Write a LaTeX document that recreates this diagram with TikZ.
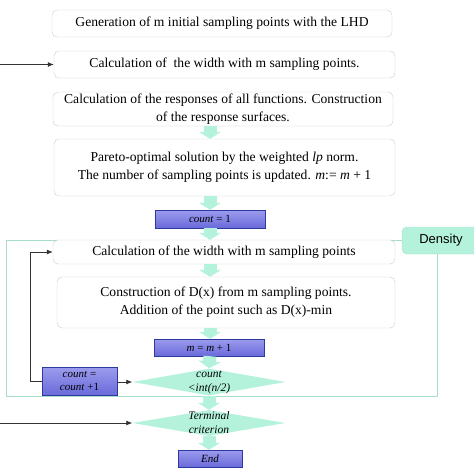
\documentclass[tikz,border=0pt]{standalone}
\usepackage{fontspec}
\setmainfont{Liberation Serif}
\setsansfont{Liberation Sans}
\usetikzlibrary{arrows.meta,shapes.geometric}
\definecolor{boxline}{HTML}{CCCCCC}
\definecolor{mint}{HTML}{B4F2DC}
\definecolor{mintline}{HTML}{A6DCC9}
\definecolor{bluetop}{HTML}{9C9CEE}
\definecolor{bluebot}{HTML}{6A6ADB}
\definecolor{blueline}{HTML}{2C3A9E}
\begin{document}
\begin{tikzpicture}[x=1pt,y=-1pt,
    stepbox/.style={draw=boxline, rounded corners=5pt, fill=white,
      align=center, inner sep=0pt, font=\fontsize{13.6}{18}\selectfont},
    countbox/.style={draw=blueline, top color=bluetop, bottom color=bluebot,
      align=center, inner sep=0pt, font=\fontsize{11}{13}\selectfont},
    test/.style={diamond, fill=mint, inner sep=0pt},
    testtext/.style={align=center, inner sep=0pt,
      font=\fontsize{11.5}{14}\selectfont\itshape},
    tag/.style={draw=mintline, fill=mint, rounded corners=5pt, inner sep=0pt,
      font=\sffamily\fontsize{13}{15}\selectfont},
    flow/.style={draw=mint, line width=13pt, -{Triangle[width=22pt,length=7pt]}},
    link/.style={draw=black!80, line width=0.8pt, -{Latex[length=6pt,width=5pt]}},
  ]
  \useasboundingbox (0,0) rectangle (474,474);

  % density loop frame
  \draw[mintline, line width=0.6pt] (6,240) rectangle (437,396);
  \node[tag, minimum width=78pt, minimum height=27pt] (density) at (441,240.5) {Density};

  \node[stepbox, minimum width=340pt, minimum height=27pt] (gen) at (222,23.5)
    {Generation of m initial sampling points with the LHD};
  \node[stepbox, minimum width=341pt, minimum height=27pt] (width1) at (224.5,64.5)
    {Calculation of \ the width with m sampling points.};
  \node[stepbox, minimum width=340pt, minimum height=34pt] (resp) at (223,109)
    {Calculation of the responses of all functions. Construction\\of the response surfaces.};
  \node[stepbox, minimum width=341pt, minimum height=57pt] (pareto) at (224.5,167.5)
    {Pareto-optimal solution by the weighted \textit{lp} norm.\\
     The number of sampling points is updated. \textit{m}:= \textit{m} + 1};
  \node[countbox, minimum width=110pt, minimum height=18pt] (count1) at (210,219)
    {\textit{count} = 1};
  \node[stepbox, minimum width=342pt, minimum height=24pt] (width2) at (224,252)
    {Calculation of the width with m sampling points};
  \node[stepbox, minimum width=338pt, minimum height=51pt] (constr) at (226,302.5)
    {Construction of D(x) from m sampling points.\\Addition of the point such as D(x)-min};
  \node[countbox, minimum width=110pt, minimum height=17pt] (mplus) at (209,347.5)
    {\textit{m} = \textit{m} + 1};
  \node[test, minimum width=153pt, minimum height=27pt] (cond) at (209,382) {};
  \node[testtext] (condtext) at (cond) {count\\<int(n/2)};
  \node[countbox, minimum width=75pt, minimum height=28pt] (cplus) at (79.5,381)
    {\textit{count} =\\\textit{count} +1};
  \node[test, minimum width=153pt, minimum height=26pt] (term) at (209,423) {};
  \node[testtext] (termtext) at (term) {Terminal\\criterion};
  \node[countbox, minimum width=64pt, minimum height=17pt] (endn) at (210,458.5)
    {\textit{End}};

  % block arrows down the spine
  \coordinate (spine) at (210,0);
  \draw[flow] (resp.south -| spine) -- (pareto.north -| spine);
  \draw[flow] (pareto.south -| spine) -- (count1.north -| spine);
  \draw[flow] (count1.south -| spine) -- (width2.north -| spine);
  \draw[flow] (width2.south -| spine) -- (constr.north -| spine);
  \draw[flow] (constr.south -| spine) -- (mplus.north -| spine);
  \draw[flow] (mplus.south -| spine) -- (cond.north);
  \draw[flow] (cond.south) -- (term.north);
  \draw[flow] (term.south) -- (endn.north -| term);

  % plain arrows
  \coordinate (in1) at (0,64.5);
  \coordinate (in2) at (0,423);
  \coordinate (loopx) at (30,0);
  \draw[link] (in1) -- (width1.west);
  \draw[link] (in2) -- (term.west);
  \draw[link] (cplus.east |- cond.west) -- (cond.west);
  \draw[link] (cplus.west) -- (cplus.west -| loopx) |- (width2.west);
\end{tikzpicture}
\end{document}
